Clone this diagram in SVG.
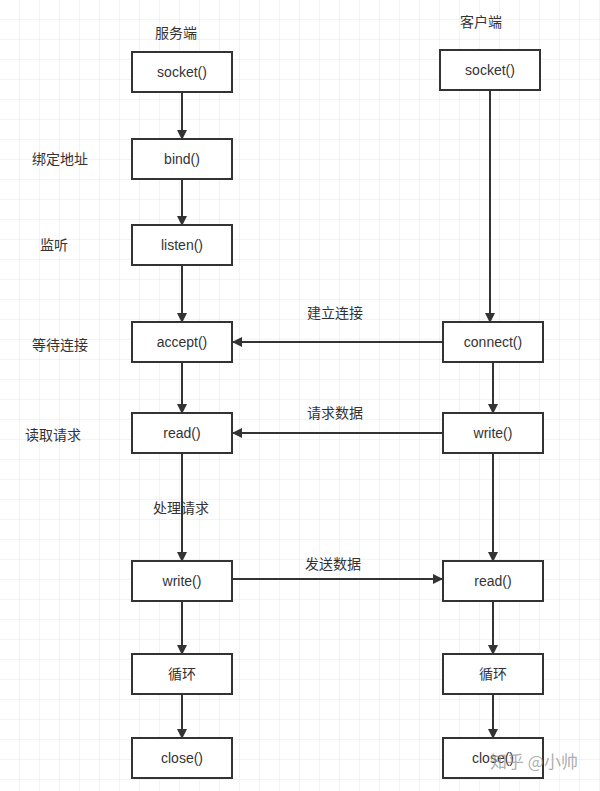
<svg xmlns="http://www.w3.org/2000/svg" width="600" height="791" viewBox="0 0 600 791">
<defs>
<pattern id="g" width="20" height="20" patternUnits="userSpaceOnUse"><path d="M20 0V20H0" fill="none" stroke="#e6e6e6" stroke-width="1"/></pattern>
<marker id="a" markerWidth="10" markerHeight="10" refX="9" refY="5" orient="auto" markerUnits="userSpaceOnUse"><path d="M0 0L10 5L0 10z" fill="#333"/></marker>
</defs>
<style>
.b{fill:#fff;stroke:#333;stroke-width:2}
.t{font-family:"Liberation Sans","Noto Sans CJK SC",sans-serif;font-size:14px;fill:#333;text-anchor:middle}
.l{font-family:"Noto Sans CJK SC",sans-serif;font-size:14px;fill:#333}
#c line{stroke:#333;stroke-width:2;marker-end:url(#a)}
</style>
<rect width="600" height="791" fill="#fff"/>
<rect width="600" height="791" fill="url(#g)"/>
<g id="c">
<line x1="182" y1="92" x2="182" y2="139"/>
<line x1="182" y1="179" x2="182" y2="225"/>
<line x1="182" y1="265" x2="182" y2="322"/>
<line x1="182" y1="362" x2="182" y2="413"/>
<line x1="182" y1="453" x2="182" y2="561"/>
<line x1="182" y1="601" x2="182" y2="654"/>
<line x1="182" y1="694" x2="182" y2="738"/>
<line x1="490" y1="90" x2="490" y2="322"/>
<line x1="493" y1="362" x2="493" y2="413"/>
<line x1="493" y1="453" x2="493" y2="561"/>
<line x1="493" y1="601" x2="493" y2="654"/>
<line x1="493" y1="694" x2="493" y2="738"/>
<line x1="443" y1="342" x2="233" y2="342"/>
<line x1="443" y1="433" x2="233" y2="433"/>
<line x1="232" y1="579" x2="442" y2="579"/>
</g>
<g id="labels">
<text class="l" x="155" y="38">服务端</text>
<text class="l" x="460" y="27">客户端</text>
<text class="l" x="32" y="164">绑定地址</text>
<text class="l" x="40" y="250">监听</text>
<text class="l" x="32" y="350">等待连接</text>
<text class="l" x="25" y="440">读取请求</text>
<text class="l" x="307" y="318">建立连接</text>
<text class="l" x="307" y="418">请求数据</text>
<text class="l" x="153" y="513">处理请求</text>
<text class="l" x="305" y="569">发送数据</text>
</g>
<g id="s1"><rect class="b" x="132" y="52" width="100" height="40"/><text class="t" x="182" y="77">socket()</text></g>
<g id="s2"><rect class="b" x="132" y="139" width="100" height="40"/><text class="t" x="182" y="164">bind()</text></g>
<g id="s3"><rect class="b" x="132" y="225" width="100" height="40"/><text class="t" x="182" y="250">listen()</text></g>
<g id="s4"><rect class="b" x="132" y="322" width="100" height="40"/><text class="t" x="182" y="347">accept()</text></g>
<g id="s5"><rect class="b" x="132" y="413" width="100" height="40"/><text class="t" x="182" y="438">read()</text></g>
<g id="s6"><rect class="b" x="132" y="561" width="100" height="40"/><text class="t" x="182" y="586">write()</text></g>
<g id="s7"><rect class="b" x="132" y="654" width="100" height="40"/><text class="t" x="182" y="679">循环</text></g>
<g id="s8"><rect class="b" x="132" y="738" width="100" height="40"/><text class="t" x="182" y="763">close()</text></g>
<g id="c1"><rect class="b" x="440" y="50" width="100" height="40"/><text class="t" x="490" y="75">socket()</text></g>
<g id="c2"><rect class="b" x="443" y="322" width="100" height="40"/><text class="t" x="493" y="347">connect()</text></g>
<g id="c3"><rect class="b" x="443" y="413" width="100" height="40"/><text class="t" x="493" y="438">write()</text></g>
<g id="c4"><rect class="b" x="443" y="561" width="100" height="40"/><text class="t" x="493" y="586">read()</text></g>
<g id="c5"><rect class="b" x="443" y="654" width="100" height="40"/><text class="t" x="493" y="679">循环</text></g>
<g id="c6"><rect class="b" x="443" y="738" width="100" height="40"/><text class="t" x="493" y="763">close()</text></g>
<text x="490" y="768" font-family="Noto Sans CJK SC,sans-serif" font-size="17" fill="#999" fill-opacity="0.8">知乎 @小帅</text>
</svg>
